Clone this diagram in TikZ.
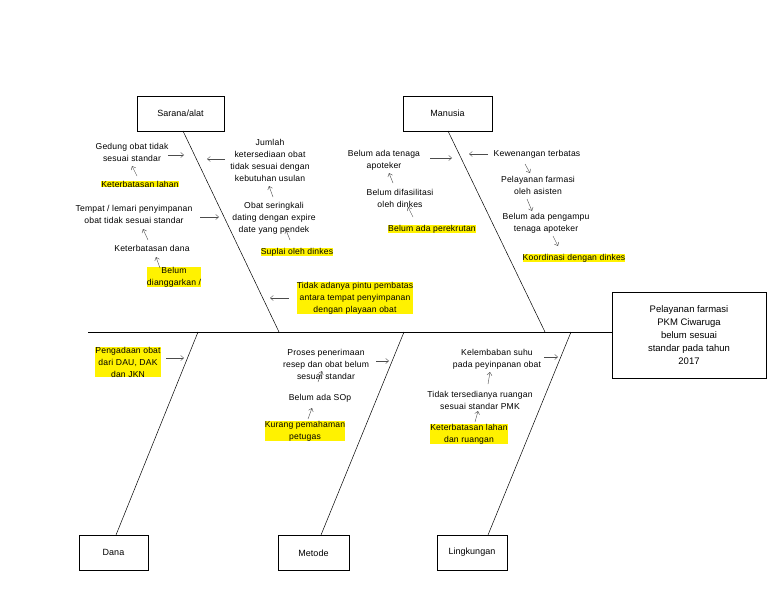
\documentclass[tikz,border=0pt]{standalone}
\usepackage{fontspec}
\setmainfont{Liberation Sans}
\newfontfamily\spc[LetterSpace=2]{Liberation Sans}
\usetikzlibrary{arrows.meta}
\begin{document}
\begin{tikzpicture}[x=1pt,y=-1pt,
 box/.style={draw,line width=0.8pt,minimum width=#1,minimum height=35pt,font=\fontsize{9}{11}\selectfont},
 box/.default=70pt,
 txt/.style={align=center,font=\spc\fontsize{8.6}{12}\selectfont,inner sep=0pt},
 hl/.style={txt,fill=yellow},
 bone/.style={line width=0.5pt},
 arr/.style={-{Straight Barb[length=3pt,width=5pt]},line width=0.4pt,gray!60!black}]
\useasboundingbox (0,0) rectangle (768,594);
\fill[white] (0,0) rectangle (768,594);
% head
\node[draw,line width=0.8pt,minimum width=154pt,minimum height=86pt,align=center,font=\fontsize{9.5}{13}\selectfont] (head) at (689,335) {Pelayanan farmasi\\PKM Ciwaruga\\belum sesuai\\standar pada tahun\\2017};
\coordinate (tail) at (88,332);
\draw[bone] (tail) -- (tail -| head.west);
% categories
\node[box=87pt] (sar) at (180.5,113.5) {Sarana/alat};
\node[box=89pt] (man) at (447.5,113.5) {Manusia};
\node[box=69pt] (dana) at (113.5,552.5) {Dana};
\node[box=71pt] (met) at (313.5,553) {Metode};
\node[box=70pt] (lin) at (472,552.5) {Lingkungan};
\coordinate (s1) at (183,131); \coordinate (s2) at (279,332);
\coordinate (m1) at (448,131); \coordinate (m2) at (545,332);
\coordinate (d1) at (116,535); \coordinate (d2) at (198,332);
\coordinate (t1) at (321,535); \coordinate (t2) at (404,332);
\coordinate (l1) at (488,535); \coordinate (l2) at (571,332);
\draw[bone] (s1)--(s2); \draw[bone] (m1)--(m2);
\draw[bone] (d1)--(d2); \draw[bone] (t1)--(t2); \draw[bone] (l1)--(l2);
% Sarana texts
\node[txt] (a1) at (132,152) {Gedung obat tidak\\sesuai standar};
\node[hl] (a2) at (140,184) {Keterbatasan lahan};
\node[txt] (a3) at (134,214) {Tempat / lemari penyimpanan\\obat tidak sesuai standar};
\node[txt] (a4) at (152,248) {Keterbatasan dana};
\node[hl] (a5) at (174,277) {Belum\\dianggarkan /};
\node[txt] (a6) at (270,160) {Jumlah\\ketersediaan obat\\tidak sesuai dengan\\kebutuhan usulan};
\node[txt] (a7) at (274,218) {Obat seringkali\\dating dengan expire\\date yang pendek};
\node[hl] (a8) at (297,252) {Suplai oleh dinkes};
\node[hl] (a9) at (355,298) {Tidak adanya pintu pembatas\\antara tempat penyimpanan\\dengan playaan obat};
\coordinate (p1a) at (168,155); \coordinate (p1b) at (184,155);
\draw[arr] (p1a)--(p1b);
\coordinate (p2a) at (137,176); \coordinate (p2b) at (132,166);
\draw[arr] (p2a)--(p2b);
\coordinate (p3a) at (200,217); \coordinate (p3b) at (219,217);
\draw[arr] (p3a)--(p3b);
\coordinate (p4a) at (148,240); \coordinate (p4b) at (143,229);
\draw[arr] (p4a)--(p4b);
\coordinate (p5a) at (160,268); \coordinate (p5b) at (156,257);
\draw[arr] (p5a)--(p5b);
\coordinate (p6a) at (225,159); \coordinate (p6b) at (207,159);
\draw[arr] (p6a)--(p6b);
\coordinate (p7a) at (273,197); \coordinate (p7b) at (269,186);
\draw[arr] (p7a)--(p7b);
\coordinate (p8a) at (290,240); \coordinate (p8b) at (286,230);
\draw[arr] (p8a)--(p8b);
\coordinate (p9a) at (289,298); \coordinate (p9b) at (270,298);
\draw[arr] (p9a)--(p9b);
% Manusia texts
\node[txt] (b1) at (384,160) {Belum ada tenaga\\apoteker};
\node[txt] (b2) at (400,198) {Belum difasilitasi\\oleh dinkes};
\node[hl] (b3) at (432,229) {Belum ada perekrutan};
\node[txt] (b4) at (537,154) {Kewenangan terbatas};
\node[txt] (b5) at (538,185) {Pelayanan farmasi\\oleh asisten};
\node[txt] (b6) at (546,223) {Belum ada pengampu\\tenaga apoteker};
\node[hl] (b7) at (574,258) {Koordinasi dengan dinkes};
\coordinate (q1a) at (430,158); \coordinate (q1b) at (452,158);
\draw[arr] (q1a)--(q1b);
\coordinate (q2a) at (393,183); \coordinate (q2b) at (389,173);
\draw[arr] (q2a)--(q2b);
\coordinate (q3a) at (413,217); \coordinate (q3b) at (408,207);
\draw[arr] (q3a)--(q3b);
\coordinate (q4a) at (488,154); \coordinate (q4b) at (469,154);
\draw[arr] (q4a)--(q4b);
\coordinate (q5a) at (525,164); \coordinate (q5b) at (530,173);
\draw[arr] (q5a)--(q5b);
\coordinate (q6a) at (527,199); \coordinate (q6b) at (532,211);
\draw[arr] (q6a)--(q6b);
\coordinate (q7a) at (553,236); \coordinate (q7b) at (558,246);
\draw[arr] (q7a)--(q7b);
% bottom texts
\node[hl] (c1) at (128,362) {Pengadaan obat\\dari DAU, DAK\\dan JKN};
\node[txt] (c2) at (326,364) {Proses penerimaan\\resep dan obat belum\\sesuai standar};
\node[txt] (c3) at (320,398) {Belum ada SOp};
\node[hl] (c4) at (305,431) {Kurang pemahaman\\petugas};
\node[txt] (c5) at (497,359) {Kelembaban suhu\\pada peyinpanan obat};
\node[txt] (c6) at (480,400) {Tidak tersedianya ruangan\\sesuai standar PMK};
\node[hl] (c7) at (469,434) {Keterbatasan lahan\\dan ruangan};
\coordinate (r1a) at (166,358); \coordinate (r1b) at (184,358);
\draw[arr] (r1a)--(r1b);
\coordinate (r2a) at (376,361); \coordinate (r2b) at (389,361);
\draw[arr] (r2a)--(r2b);
\coordinate (r3a) at (318,382); \coordinate (r3b) at (322,371);
\draw[arr] (r3a)--(r3b);
\coordinate (r4a) at (308,419); \coordinate (r4b) at (312,408);
\draw[arr] (r4a)--(r4b);
\coordinate (r5a) at (544,357); \coordinate (r5b) at (558,357);
\draw[arr] (r5a)--(r5b);
\coordinate (r6a) at (488,384); \coordinate (r6b) at (490,372);
\draw[arr] (r6a)--(r6b);
\coordinate (r7a) at (475,422); \coordinate (r7b) at (478,411);
\draw[arr] (r7a)--(r7b);
\end{tikzpicture}
\end{document}
